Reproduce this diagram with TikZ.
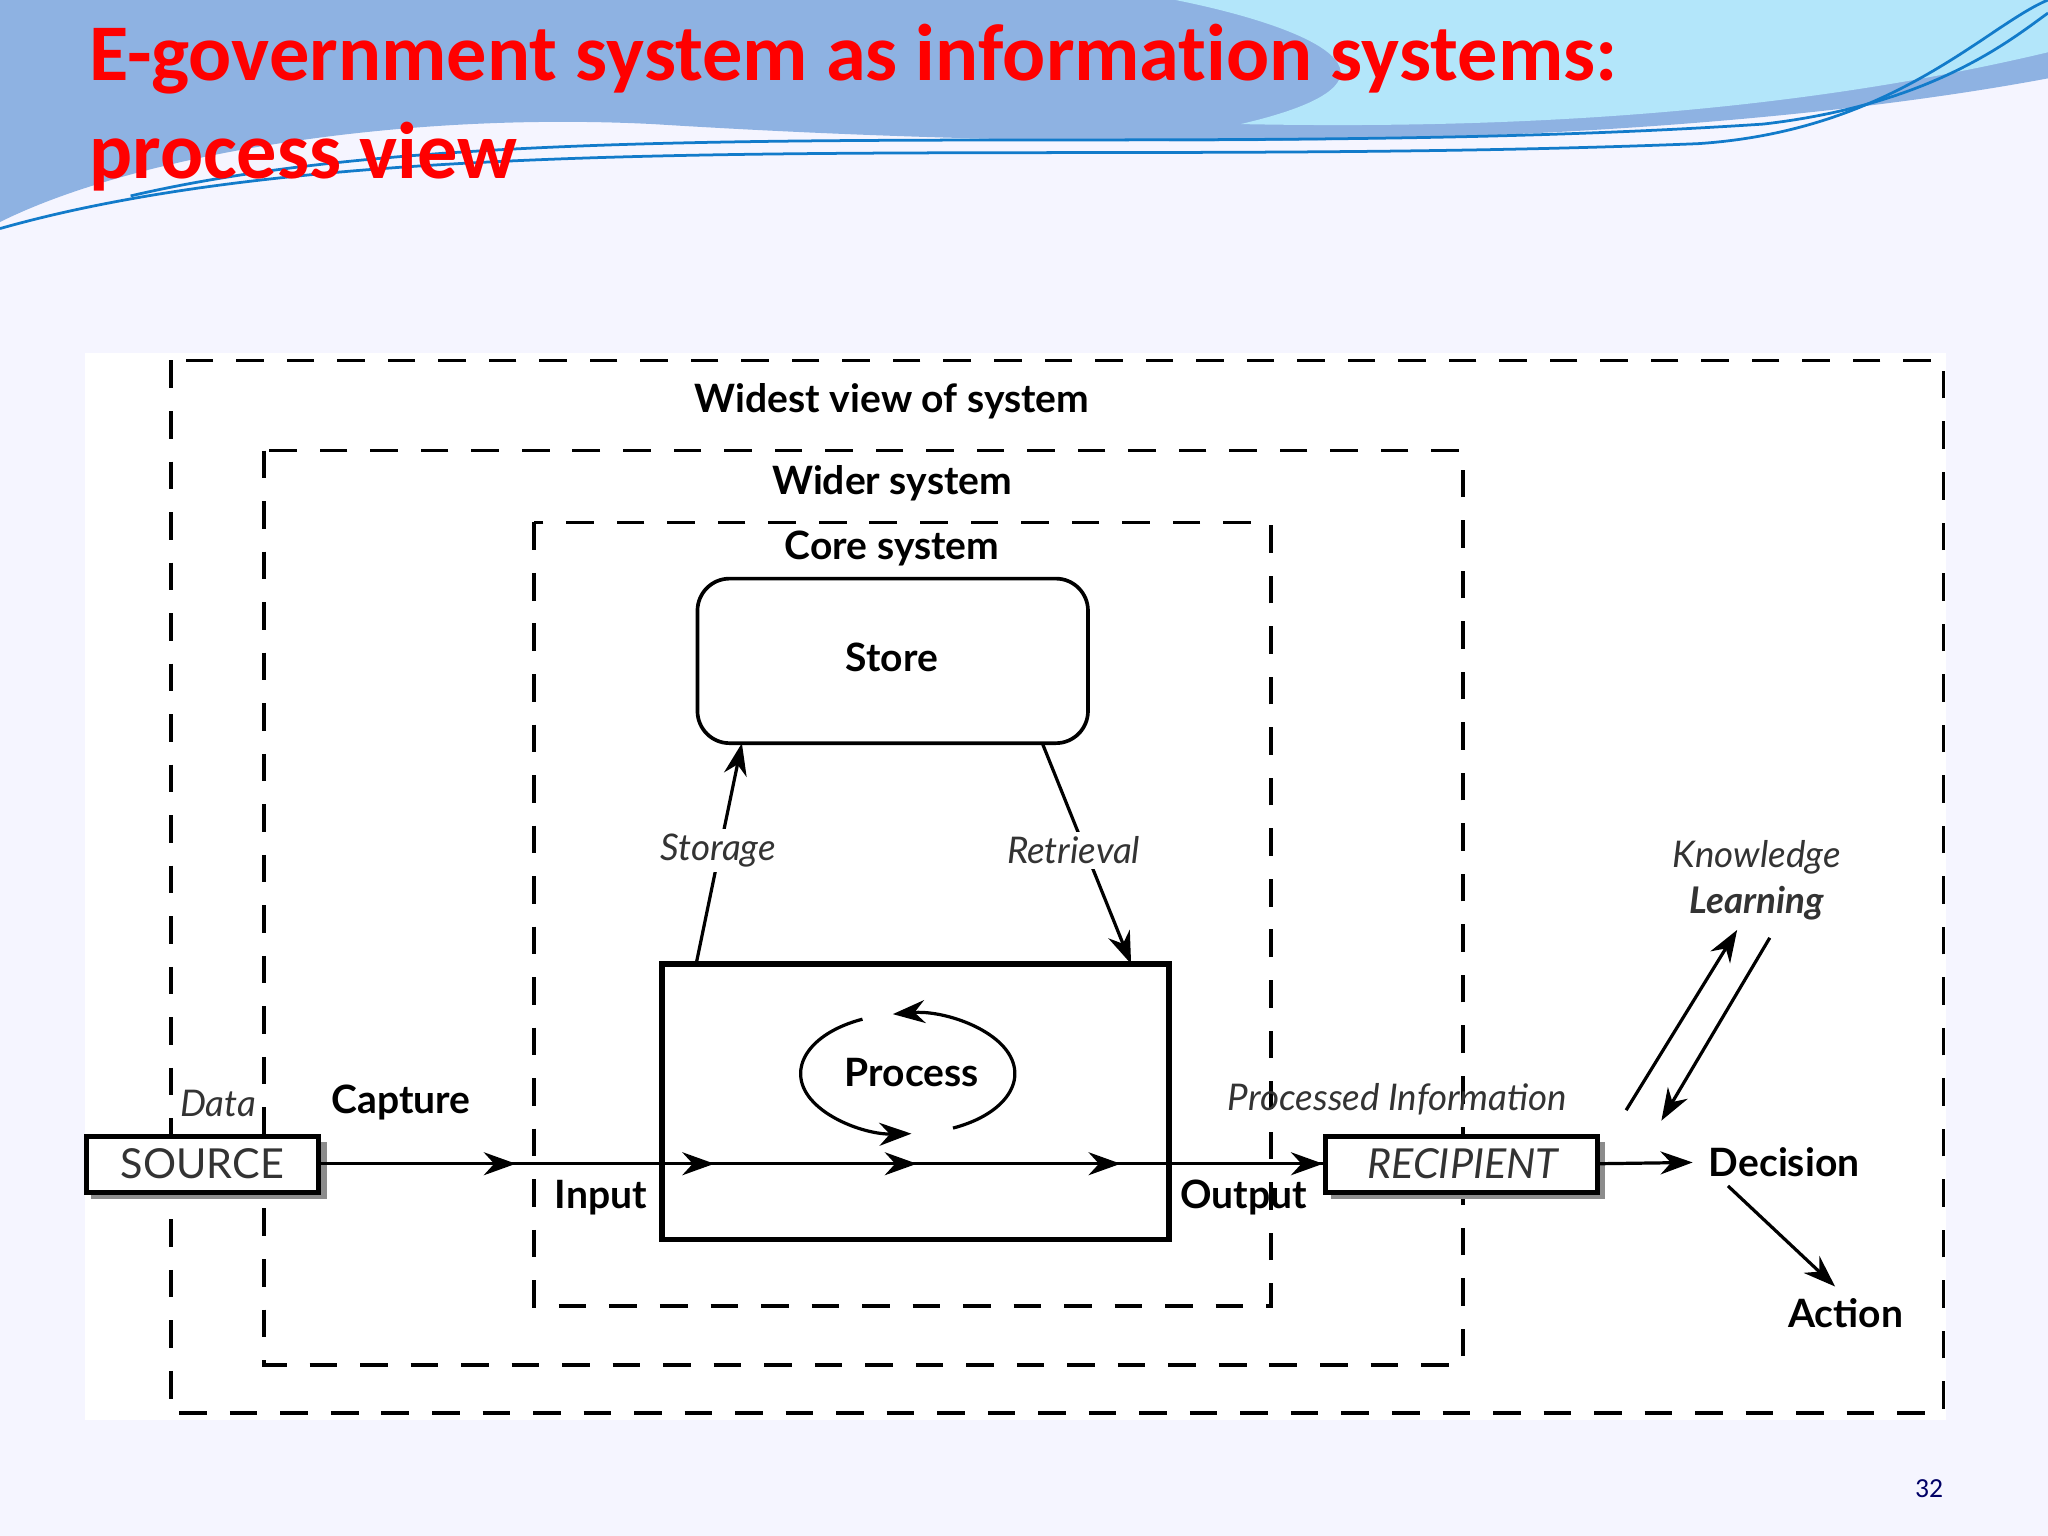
\documentclass[tikz,border=0pt]{standalone}
\usepackage{fontspec}
\setmainfont{Carlito}[Ligatures=NoCommon]
\newfontfamily\dg{Lato}
\usetikzlibrary{arrows.meta}
\begin{document}
\begin{tikzpicture}[x=0.01cm,y=-0.01cm,
  dbox/.style={draw,dash pattern=on 6pt off 5pt,line width=0.8pt},
  arr/.style={-{Stealth[length=7pt,width=5pt]},line width=0.7pt},
  bl/.style={font=\dg\bfseries\fontsize{8.5}{10}\selectfont},
  it/.style={font=\dg\itshape\fontsize{8}{10}\selectfont,text=black!80}]
\useasboundingbox (0,0) rectangle (1568,1176);
\fill[white!96!blue] (0,0) rectangle (1568,1176);
% top wave
\fill[cyan!55!blue!45] (0,0) -- (1568,0) -- (1568,60) .. controls (1300,110) and (900,120) .. (500,95) .. controls (300,85) and (100,120) .. (0,170) -- cycle;
\fill[cyan!30] (900,0) -- (1568,0) -- (1568,40) .. controls (1400,80) and (1200,100) .. (950,95) .. controls (1100,60) and (1000,20) .. (900,0) -- cycle;
\draw[cyan!60!blue,line width=0.6pt] (0,175) .. controls (300,90) and (800,130) .. (1300,110) .. controls (1450,100) and (1520,20) .. (1568,0);
\draw[cyan!60!blue,line width=0.6pt] (100,150) .. controls (400,80) and (900,125) .. (1350,95) .. controls (1480,80) and (1540,30) .. (1568,10);
\node[anchor=west,text=red,font=\bfseries\fontsize{17.5}{20}\selectfont] (t1) at (56,45) {E-government system as information systems:};
\node[anchor=west,text=red,font=\bfseries\fontsize{17.5}{20}\selectfont] (t2) at (56,120) {process view};
\node[font=\fontsize{6}{7}\selectfont,text=blue!40!black] (pg) at (1477,1140) {32};
% diagram
\fill[white] (65,270) rectangle (1490,1087);
\draw[dbox] (131,276) rectangle (1488,1082);
\draw[dbox] (202,345) rectangle (1120,1045);
\draw[dbox] (409,400) rectangle (973,1000);
\node[bl] (widest) at (683,307) {Widest view of system};
\node[bl] (wider) at (683,370) {Wider system};
\node[bl] (core) at (683,420) {Core system};
\draw[rounded corners=7pt,line width=0.8pt] (534,443) rectangle (833,569);
\node[bl] (store) at (683,503) {Store};
\coordinate (stl) at (568,569); \coordinate (str) at (798,569);
\draw[line width=1.3pt] (507,738) rectangle (895,949);
\coordinate (pl) at (533,738); \coordinate (pr) at (866,738);
\draw[arr] (pl) -- (stl);
\draw[arr] (str) -- (pr);
\node[it,fill=white,inner sep=1pt] (storage) at (550,651) {Storage};
\node[it,fill=white,inner sep=1pt] (retr) at (822,651) {Retrieval};
\node[bl] (proc) at (698,821) {Process};
\coordinate (pc) at (695,822);
\draw[arr] ([shift={(pc)}]65:82 and 46) arc[start angle=65,end angle=-98,x radius=82,y radius=46];
\draw[arr] ([shift={(pc)}]245:82 and 46) arc[start angle=245,end angle=88,x radius=82,y radius=46];
% source / recipient
\fill[black!45] (70,874) rectangle (250,918);
\draw[line width=1pt,fill=white] (66,870) rectangle (244,913);
\node[it,font=\dg\fontsize{9}{10}\selectfont] (src) at (155,891) {SOURCE};
\fill[black!45] (1019,874) rectangle (1229,918);
\draw[line width=1pt,fill=white] (1015,870) rectangle (1223,913);
\node[it,font=\dg\itshape\fontsize{9}{10}\selectfont] (rec) at (1120,891) {RECIPIENT};
\coordinate (s) at (244,891); \coordinate (r) at (1015,891);
\draw[line width=0.7pt] (s) -- (r);
\foreach \x in {395,547,702,858,1013}{\draw[arr] (\x-20,891) -- (\x,891);}
\node[it] at (167,845) {Data};
\node[bl] at (307,844) {Capture};
\node[bl] at (460,917) {Input};
\node[bl] at (952,917) {Output};
\node[it] at (1070,842) {Processed Information};
\node[bl] (dec) at (1366,890) {Decision};
\draw[arr] (1223,891) -- (dec.west);
\node[bl] (act) at (1413,1005) {Action};
\draw[arr] (1323,908) -- (1405,985);
\node[it,align=center] (kl) at (1345,674) {Knowledge\\\bfseries Learning};
\draw[arr] (1245,850) -- (1330,712);
\draw[arr] (1355,718) -- (1272,858);
\end{tikzpicture}
\end{document}
